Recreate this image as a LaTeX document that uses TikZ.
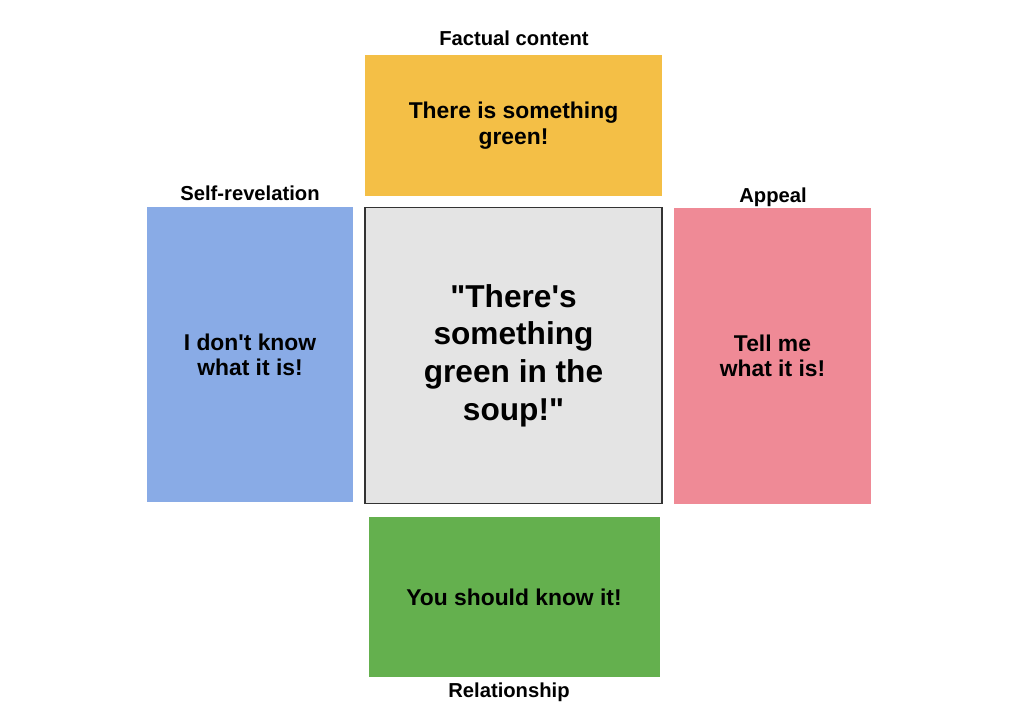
\documentclass[tikz,border=0pt]{standalone}
\usepackage{fontspec}
\setmainfont{Liberation Sans}
\usepackage{tikz}
\pgfdeclarelayer{nodelayer}
\pgfsetlayers{main,nodelayer}
\definecolor{factual}{HTML}{F4BF46}
\definecolor{selfrev}{HTML}{89ABE6}
\definecolor{appeal}{HTML}{EF8A96}
\definecolor{relation}{HTML}{64B04E}
\definecolor{message}{HTML}{E4E4E4}
\tikzstyle{none}=[inner sep=0pt,font=\fontsize{11.5}{13}\selectfont\bfseries]
\tikzstyle{side}=[rectangle,inner sep=0pt,align=center,font=\fontsize{13}{14.4}\selectfont\bfseries]
\tikzstyle{centre}=[rectangle,draw=black!80,line width=0.6pt,fill=message,inner sep=0pt,align=center,font=\fontsize{18}{21.4}\selectfont\bfseries]

\begin{document}
\begin{tikzpicture}
	\useasboundingbox (0, 0) rectangle (20.6, -14.42);
	\begin{pgfonlayer}{nodelayer}
		\node [style=centre, minimum width=5.94cm, minimum height=5.92cm] (0) at (10.27, -7.11) {\textquotedbl There\textquotesingle s\\something\\green in the\\soup!\textquotedbl};
		\node [style=side, fill=factual, minimum width=5.94cm, minimum height=2.82cm] (1) at (10.27, -2.51) {There is something\\green!};
		\node [style=side, fill=selfrev, minimum width=4.12cm, minimum height=5.9cm] (2) at (5.0, -7.09) {I don\textquotesingle t know\\what it is!};
		\node [style=side, fill=appeal, minimum width=3.94cm, minimum height=5.92cm] (3) at (15.45, -7.12) {Tell me\\what it is!};
		\node [style=side, fill=relation, minimum width=5.82cm, minimum height=3.2cm] (4) at (10.28, -11.94) {You should know it!};
		\node [style=none] (5) at (10.28, -0.76) {Factual content};
		\node [style=none] (6) at (5.0, -3.86) {Self-revelation};
		\node [style=none] (7) at (15.46, -3.94) {Appeal};
		\node [style=none] (8) at (10.18, -13.84) {Relationship};
	\end{pgfonlayer}
\end{tikzpicture}
\end{document}
